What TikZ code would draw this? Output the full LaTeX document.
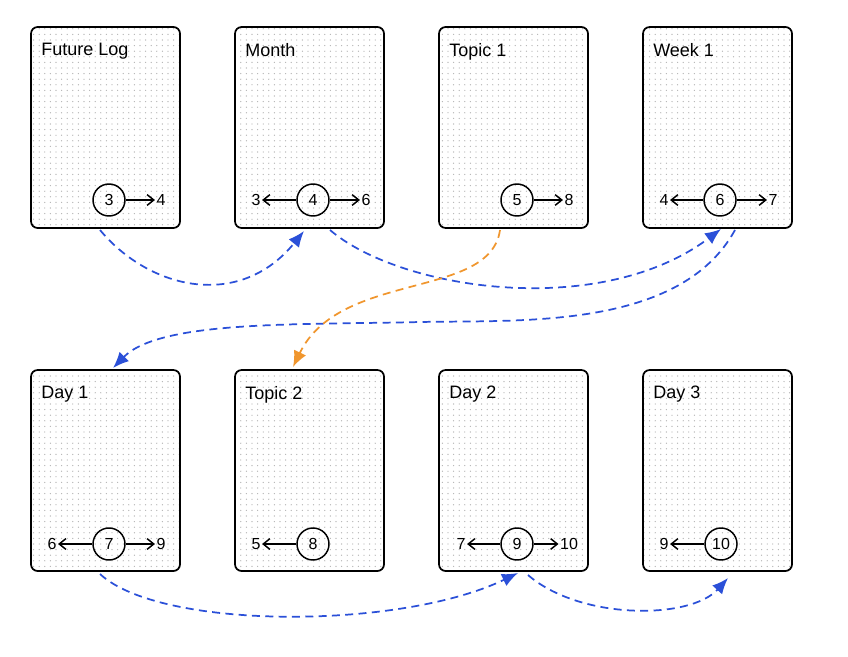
\documentclass[tikz,border=0pt]{standalone}
\usepackage{fontspec}
\setmainfont{Liberation Sans}
\usetikzlibrary{patterns.meta,arrows.meta}
\definecolor{lblue}{HTML}{2B50D8}
\definecolor{lorange}{HTML}{F0962E}
\begin{document}
\begin{tikzpicture}[x=0.75pt,y=-0.75pt,
  card/.style={draw,line width=1.3pt,rounded corners=5pt,fill=white,
     pattern={Dots[distance=4.2pt,radius=0.5pt]},pattern color=black!30},
  ttl/.style={anchor=north west,font=\fontsize{13.5}{15}\selectfont,inner sep=0pt},
  pg/.style={circle,draw,line width=1.1pt,minimum size=24pt,inner sep=0pt,font=\fontsize{12}{14}\selectfont},
  num/.style={inner sep=1pt,font=\fontsize{12}{14}\selectfont},
  ptr/.style={-{Straight Barb[length=5pt,width=8pt]},line width=1.1pt},
  link/.style={dashed,dash pattern=on 6pt off 4pt,line width=1.3pt,color=lblue,-{Latex[length=12pt,width=10pt]}},
  olink/.style={link,color=lorange}]
\useasboundingbox (0,0) rectangle (848,656);
\newcommand\mkcard[3]{%
  \draw[card] (#1,#2) rectangle ++(149,201);
  \node[ttl] at (#1+10,#2+16) {#3};}
\mkcard{31}{27}{Future Log}
\mkcard{235}{27}{Month}
\mkcard{439}{27}{Topic 1}
\mkcard{643}{27}{Week 1}
\mkcard{31}{370}{Day 1}
\mkcard{235}{370}{Topic 2}
\mkcard{439}{370}{Day 2}
\mkcard{643}{370}{Day 3}
% page nodes
\node[pg] (c3) at (109,200) {3}; \node[num] (n3r) at (161,200) {4};
\draw[ptr] (c3) -- (n3r);
\node[pg] (c4) at (313,200) {4}; \node[num] (n4l) at (256,200) {3}; \node[num] (n4r) at (366,200) {6};
\draw[ptr] (c4) -- (n4l); \draw[ptr] (c4) -- (n4r);
\node[pg] (c5) at (517,200) {5}; \node[num] (n5r) at (569,200) {8};
\draw[ptr] (c5) -- (n5r);
\node[pg] (c6) at (720,200) {6}; \node[num] (n6l) at (664,200) {4}; \node[num] (n6r) at (773,200) {7};
\draw[ptr] (c6) -- (n6l); \draw[ptr] (c6) -- (n6r);
\node[pg] (c7) at (109,544) {7}; \node[num] (n7l) at (52,544) {6}; \node[num] (n7r) at (161,544) {9};
\draw[ptr] (c7) -- (n7l); \draw[ptr] (c7) -- (n7r);
\node[pg] (c8) at (313,544) {8}; \node[num] (n8l) at (256,544) {5};
\draw[ptr] (c8) -- (n8l);
\node[pg] (c9) at (517,544) {9}; \node[num] (n9l) at (461,544) {7}; \node[num] (n9r) at (569,544) {10};
\draw[ptr] (c9) -- (n9l); \draw[ptr] (c9) -- (n9r);
\node[pg] (c10) at (721,544) {10}; \node[num] (n10l) at (664,544) {9};
\draw[ptr] (c10) -- (n10l);
% link end points
\coordinate (a1) at (100,230); \coordinate (b1) at (304,231);
\coordinate (a2) at (330,230); \coordinate (b2) at (721,229);
\coordinate (a3) at (735,230); \coordinate (b3) at (113,368);
\coordinate (a4) at (500,230); \coordinate (b4) at (293,367);
\coordinate (a5) at (100,574); \coordinate (b5) at (518,573);
\coordinate (a6) at (528,575); \coordinate (b6) at (728,578);
\draw[link] (a1) .. controls (150,290) and (240,310) .. (b1);
\draw[link] (a2) .. controls (400,290) and (600,320) .. (b2);
\draw[link] (a3) .. controls (680,330) and (520,320) .. (420,322)
               .. controls (300,325) and (160,320) .. (b3);
\draw[olink] (a4) .. controls (490,300) and (340,270) .. (b4);
\draw[link] (a5) .. controls (160,630) and (400,630) .. (b5);
\draw[link] (a6) .. controls (580,620) and (690,620) .. (b6);
\end{tikzpicture}
\end{document}
